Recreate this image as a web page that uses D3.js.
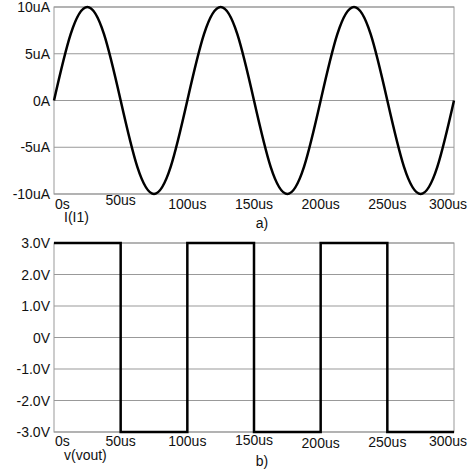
<!DOCTYPE html><html><head><meta charset="utf-8">
<script src="https://cdn.jsdelivr.net/npm/d3@7"></script>
<style>body{margin:0;background:#fff}text{font-family:"Liberation Sans",Arial,sans-serif;font-size:14px;fill:#111}</style>
</head><body><svg id="c" width="474" height="470"></svg><script>
const xTicks=[0,50,100,150,200,250,300];
const xTickLabels=["0s","50us","100us","150us","200us","250us","300us"];
const iTicks=[10,5,0,-5,-10];
const iTickLabels=["10uA","5uA","0A","-5uA","-10uA"];
const vTicks=[3,2,1,0,-1,-2,-3];
const vTickLabels=["3.0V","2.0V","1.0V","0V","-1.0V","-2.0V","-3.0V"];
// current I(I1) samples (time us, uA)
const iTime=[0,12.5,25,37.5,50,62.5,75,87.5,100,112.5,125,137.5,150,162.5,175,187.5,200,212.5,225,237.5,250,262.5,275,287.5,300];
const iVals=[0,7.1,10,7.1,0,-7.1,-10,-7.1,0,7.1,10,7.1,0,-7.1,-10,-7.1,0,7.1,10,7.1,0,-7.1,-10,-7.1,0];
// v(vout) square wave
const vTime=[0,50,50,100,100,150,150,200,200,250,250,300];
const vVals=[3,3,-3,-3,3,3,-3,-3,3,3,-3,-3];

const svg=d3.select("#c");
const x=d3.scaleLinear().domain([0,300]).range([54,454]);
function panel(y0,y1,dom,ticks,labels,tX,name,letter,tLabY){
  const y=d3.scaleLinear().domain(dom).range([y1,y0]);
  const g=svg.append("g");
  g.selectAll("line.g").data(ticks).join("line").attr("x1",54).attr("x2",454)
   .attr("y1",d=>y(d)).attr("y2",d=>y(d)).attr("stroke","#999").attr("stroke-width",1);
  g.append("rect").attr("x",54).attr("y",y0).attr("width",400).attr("height",y1-y0)
   .attr("fill","none").attr("stroke","#999");
  g.selectAll("text.y").data(ticks).join("text").attr("x",50).attr("y",d=>y(d)+5)
   .attr("text-anchor","end").text((d,i)=>labels[i]);
  g.selectAll("text.x").data(xTicks).join("text").attr("x",(d,i)=>i==0?x(d)+1:x(d)+(i==6?-6:0))
   .attr("y",(d,i)=>tLabY+tX[i]).attr("text-anchor",(d,i)=>i==0?"start":"middle").text((d,i)=>xTickLabels[i]);
  g.append("text").attr("x",64).attr("y",tLabY+28).text(name);
  g.append("text").attr("x",262).attr("y",tLabY+34).attr("text-anchor","middle").text(letter);
  return y;
}
const yI=panel(7,194,[-10,10],iTicks,iTickLabels,[15,11,15,15,15,15,15],"I(I1)","a)",194);
const yV=panel(243,432,[-3,3],vTicks,vTickLabels,[14,14,14,13,16,15,14],"v(vout)","b)",432);
svg.append("path").datum(iTime.map((t,i)=>[t,iVals[i]])).attr("fill","none").attr("stroke","#000").attr("stroke-width",2.5)
 .attr("d",d3.line().x(d=>x(d[0])).y(d=>yI(d[1])).curve(d3.curveNatural));
svg.append("path").datum(vTime.map((t,i)=>[t,vVals[i]])).attr("fill","none").attr("stroke","#000").attr("stroke-width",2.5)
 .attr("d",d3.line().x(d=>x(d[0])).y(d=>yV(d[1])));
</script></body></html>
